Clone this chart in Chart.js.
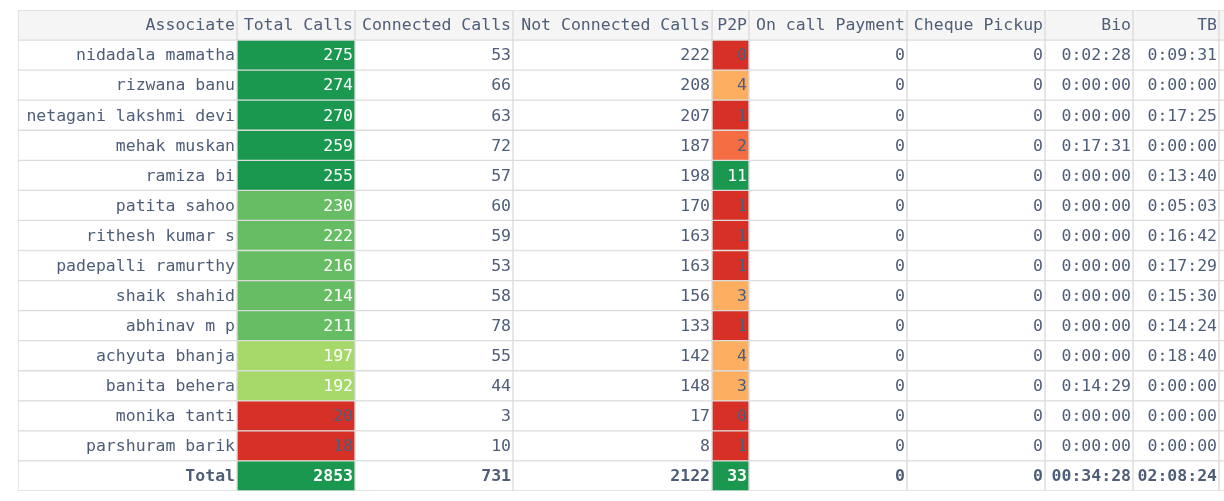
<!DOCTYPE html>
<html><head><meta charset="utf-8">
<script src="https://cdn.jsdelivr.net/npm/chart.js@4"></script>
<style>html,body{margin:0;background:#fff}#wrap{width:1224px;height:501px}</style>
</head><body><div id="wrap"><canvas id="tbl"></canvas></div>
<script>
const headers   = ["Associate", "Total Calls", "Connected Calls", "Not Connected Calls", "P2P", "On call Payment", "Cheque Pickup", "Bio", "TB", ""];
const associates = ["nidadala mamatha", "rizwana banu", "netagani lakshmi devi", "mehak muskan", "ramiza bi", "patita sahoo", "rithesh kumar s", "padepalli ramurthy", "shaik shahid", "abhinav m p", "achyuta bhanja", "banita behera", "monika tanti", "parshuram barik"];
const totalCalls     = [275, 274, 270, 259, 255, 230, 222, 216, 214, 211, 197, 192, 20, 18];
const connectedCalls = [53, 66, 63, 72, 57, 60, 59, 53, 58, 78, 55, 44, 3, 10];
const notConnected   = [222, 208, 207, 187, 198, 170, 163, 163, 156, 133, 142, 148, 17, 8];
const p2p            = [0, 4, 1, 2, 11, 1, 1, 1, 3, 1, 4, 3, 0, 1];
const onCallPayment  = [0, 0, 0, 0, 0, 0, 0, 0, 0, 0, 0, 0, 0, 0];
const chequePickup   = [0, 0, 0, 0, 0, 0, 0, 0, 0, 0, 0, 0, 0, 0];
const bio = ["0:02:28", "0:00:00", "0:00:00", "0:17:31", "0:00:00", "0:00:00", "0:00:00", "0:00:00", "0:00:00", "0:00:00", "0:00:00", "0:14:29", "0:00:00", "0:00:00"];
const tb  = ["0:09:31", "0:00:00", "0:17:25", "0:00:00", "0:13:40", "0:05:03", "0:16:42", "0:17:29", "0:15:30", "0:14:24", "0:18:40", "0:00:00", "0:00:00", "0:00:00"];
const totals = ["Total", "2853", "731", "2122", "33", "0", "0", "00:34:28", "02:08:24", "0"];

// column edges (layout)
const edges = [18, 237, 355, 513, 712, 749, 907, 1045, 1133, 1219, 1240];

const TXT = "#4e5d78";
const DG = "#1a9850", MG = "#66bd63", LG = "#a6d96a", RD = "#d73027", OR = "#fdae61", OR2 = "#f46d43";

function totalColor(v) { return v >= 250 ? DG : v >= 210 ? MG : v >= 190 ? LG : RD; }
function p2pColor(v) { return v >= 10 ? DG : v >= 3 ? OR : v === 2 ? OR2 : RD; }

const rowLabels = ["header", ...associates, "Total"];
const cols = [
  associates, totalCalls, connectedCalls, notConnected, p2p, onCallPayment, chequePickup, bio, tb, associates.map(() => "")
];

const datasets = headers.map((h, c) => {
  const texts = [h, ...cols[c].map(String), totals[c]];
  const bg = rowLabels.map((r, i) => {
    if (i === 0) return "#f5f5f5";
    const v = i <= associates.length ? cols[c][i - 1] : null;
    if (c === 1) return i <= associates.length ? totalColor(v) : DG;
    if (c === 4) return i <= associates.length ? p2pColor(v) : DG;
    return "#ffffff";
  });
  const fg = bg.map(b => (b === DG || b === MG || b === LG) ? "#ffffff" : TXT);
  return {
    label: h,
    data: rowLabels.map(() => [edges[c], edges[c + 1]]),
    backgroundColor: bg,
    borderColor: "#dcdcdc",
    borderWidth: 1,
    borderSkipped: false,
    barPercentage: 1,
    categoryPercentage: 1,
    texts, fg
  };
});

const cellText = {
  id: "cellText",
  afterDatasetsDraw(chart) {
    const ctx = chart.ctx;
    ctx.save();
    ctx.textBaseline = "middle";
    ctx.textAlign = "right";
    chart.data.datasets.forEach((ds, c) => {
      chart.getDatasetMeta(c).data.forEach((bar, i) => {
        const bold = i === rowLabels.length - 1;
        ctx.font = (bold ? "bold " : "") + "16.5px 'DejaVu Sans Mono'";
        ctx.fillStyle = i === 0 ? TXT : ds.fg[i];
        const left = Math.min(bar.x, bar.base), right = Math.max(bar.x, bar.base);
        ctx.save();
        ctx.beginPath();
        ctx.rect(left, bar.y - 15, right - left, 30);
        ctx.clip();
        ctx.fillText(ds.texts[i], right - 2, bar.y + 1);
        ctx.restore();
      });
    });
    ctx.restore();
  }
};

new Chart(document.getElementById("tbl"), {
  type: "bar",
  data: { labels: rowLabels, datasets },
  options: {
    indexAxis: "y",
    responsive: true,
    maintainAspectRatio: false,
    animation: false,
    layout: { padding: { top: 10, bottom: 10, left: 0, right: 0 } },
    plugins: { legend: { display: false }, tooltip: { enabled: false } },
    scales: {
      x: { type: "linear", min: 0, max: 1224, display: false, stacked: false },
      y: { display: false, offset: true, stacked: true }
    }
  },
  plugins: [cellText]
});
</script>
</body></html>
